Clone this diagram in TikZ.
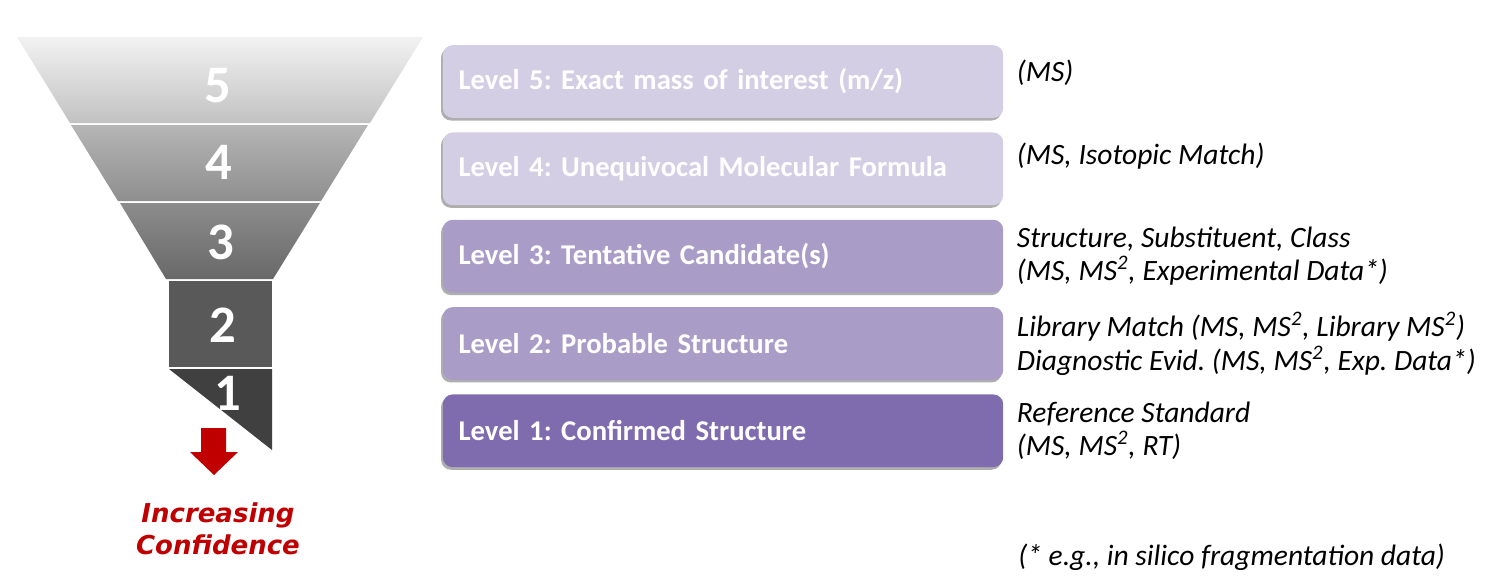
\documentclass[tikz,border=0pt]{standalone}
\usepackage{fontspec}
\setmainfont{Carlito}
\newfontfamily\heavyfont{DejaVu Sans}
\usetikzlibrary{positioning,shadows}
\frenchspacing

\definecolor{lavlight}{HTML}{D4CEE4}
\definecolor{lavmid}{HTML}{A99DC8}
\definecolor{lavdark}{HTML}{7F6CAE}
\definecolor{arrowred}{HTML}{C00000}

\tikzset{
  levelbox/.style={rounded corners=5.7pt, minimum height=41.4pt, text width=301pt,
    inner xsep=9pt, align=left, text=white, font=\fontsize{16.3}{19}\selectfont\bfseries,
    drop shadow={shadow xshift=-1pt, shadow yshift=-1.5pt, opacity=0.45, fill=black!70}},
  side/.style={inner sep=0pt, anchor=west, align=left,
    font=\fontsize{16.8}{19.3}\selectfont\itshape},
  levelnum/.style={text=white, font=\fontsize{30}{34}\selectfont\bfseries},
  band/.style={draw=none}
}

\begin{document}
\begin{tikzpicture}[x=0.02cm, y=-0.02cm, node distance=7.9pt]
    \useasboundingbox (0,0) rectangle (1497,583);

    % funnel
    \shade[band, top color=black!5, bottom color=black!24] (17,37) -- (423,37) -- (370,123) -- (70,123) -- cycle;
    \shade[band, top color=black!29, bottom color=black!44] (71,125) -- (368,125) -- (321,201) -- (118,201) -- cycle;
    \shade[band, top color=black!45, bottom color=black!59] (120,203) -- (320,203) -- (273,279) -- (166,279) -- cycle;
    \fill[band, black!65] (169,281) rectangle (272,367);
    \fill[band, black!75] (169,369) -- (272,369) -- (272,450) -- cycle;

    \node[levelnum] (n5) at (218,86) {5};
    \node[levelnum] (n4) at (219,162) {4};
    \node[levelnum] (n3) at (221,242) {3};
    \node[levelnum] (n2) at (223,325) {2};
    \node[levelnum] (n1) at (228,393) {1};

    % arrow and caption
    \fill[arrowred] (201,428) -- (226,428) -- (226,452) -- (238,452) -- (214,475) -- (190,452) -- (201,452) -- cycle;
    \node[text=arrowred, align=center, font=\heavyfont\fontsize{14.8}{18.1}\selectfont\bfseries\itshape]
      (conf) at (218,529) {Increasing\\Confidence};

    % level boxes
    \node[levelbox, fill=lavlight] (b5) at (723,81.5) {Level 5: Exact mass of interest (m/z)};
    \node[levelbox, fill=lavlight, below=of b5] (b4) {Level 4: Unequivocal Molecular Formula};
    \node[levelbox, fill=lavmid, below=of b4] (b3) {Level 3: Tentative Candidate(s)};
    \node[levelbox, fill=lavmid, below=of b3] (b2) {Level 2: Probable Structure};
    \node[levelbox, fill=lavdark, below=of b2] (b1) {Level 1: Confirmed Structure};

    % evidence
    \node[side, yshift=4.8pt] (s5) at ([xshift=7.4pt]b5.east) {(MS)};
    \node[side, yshift=7.4pt] (s4) at ([xshift=7.4pt]b4.east) {(MS, Isotopic Match)};
    \node[side] (s3) at ([xshift=7.4pt]b3.east) {Structure, Substituent, Class\\(MS, MS\textsuperscript{2}, Experimental Data*)};
    \node[side] (s2) at ([xshift=7.4pt]b2.east) {Library Match (MS, MS\textsuperscript{2}, Library MS\textsuperscript{2})\\Diagnostic Evid. (MS, MS\textsuperscript{2}, Exp. Data*)};
    \node[side] (s1) at ([xshift=7.4pt]b1.east) {Reference Standard\\(MS, MS\textsuperscript{2}, RT)};

    \node[side] (note) at (1018,557) {(* e.g., in silico fragmentation data)};
\end{tikzpicture}
\end{document}
